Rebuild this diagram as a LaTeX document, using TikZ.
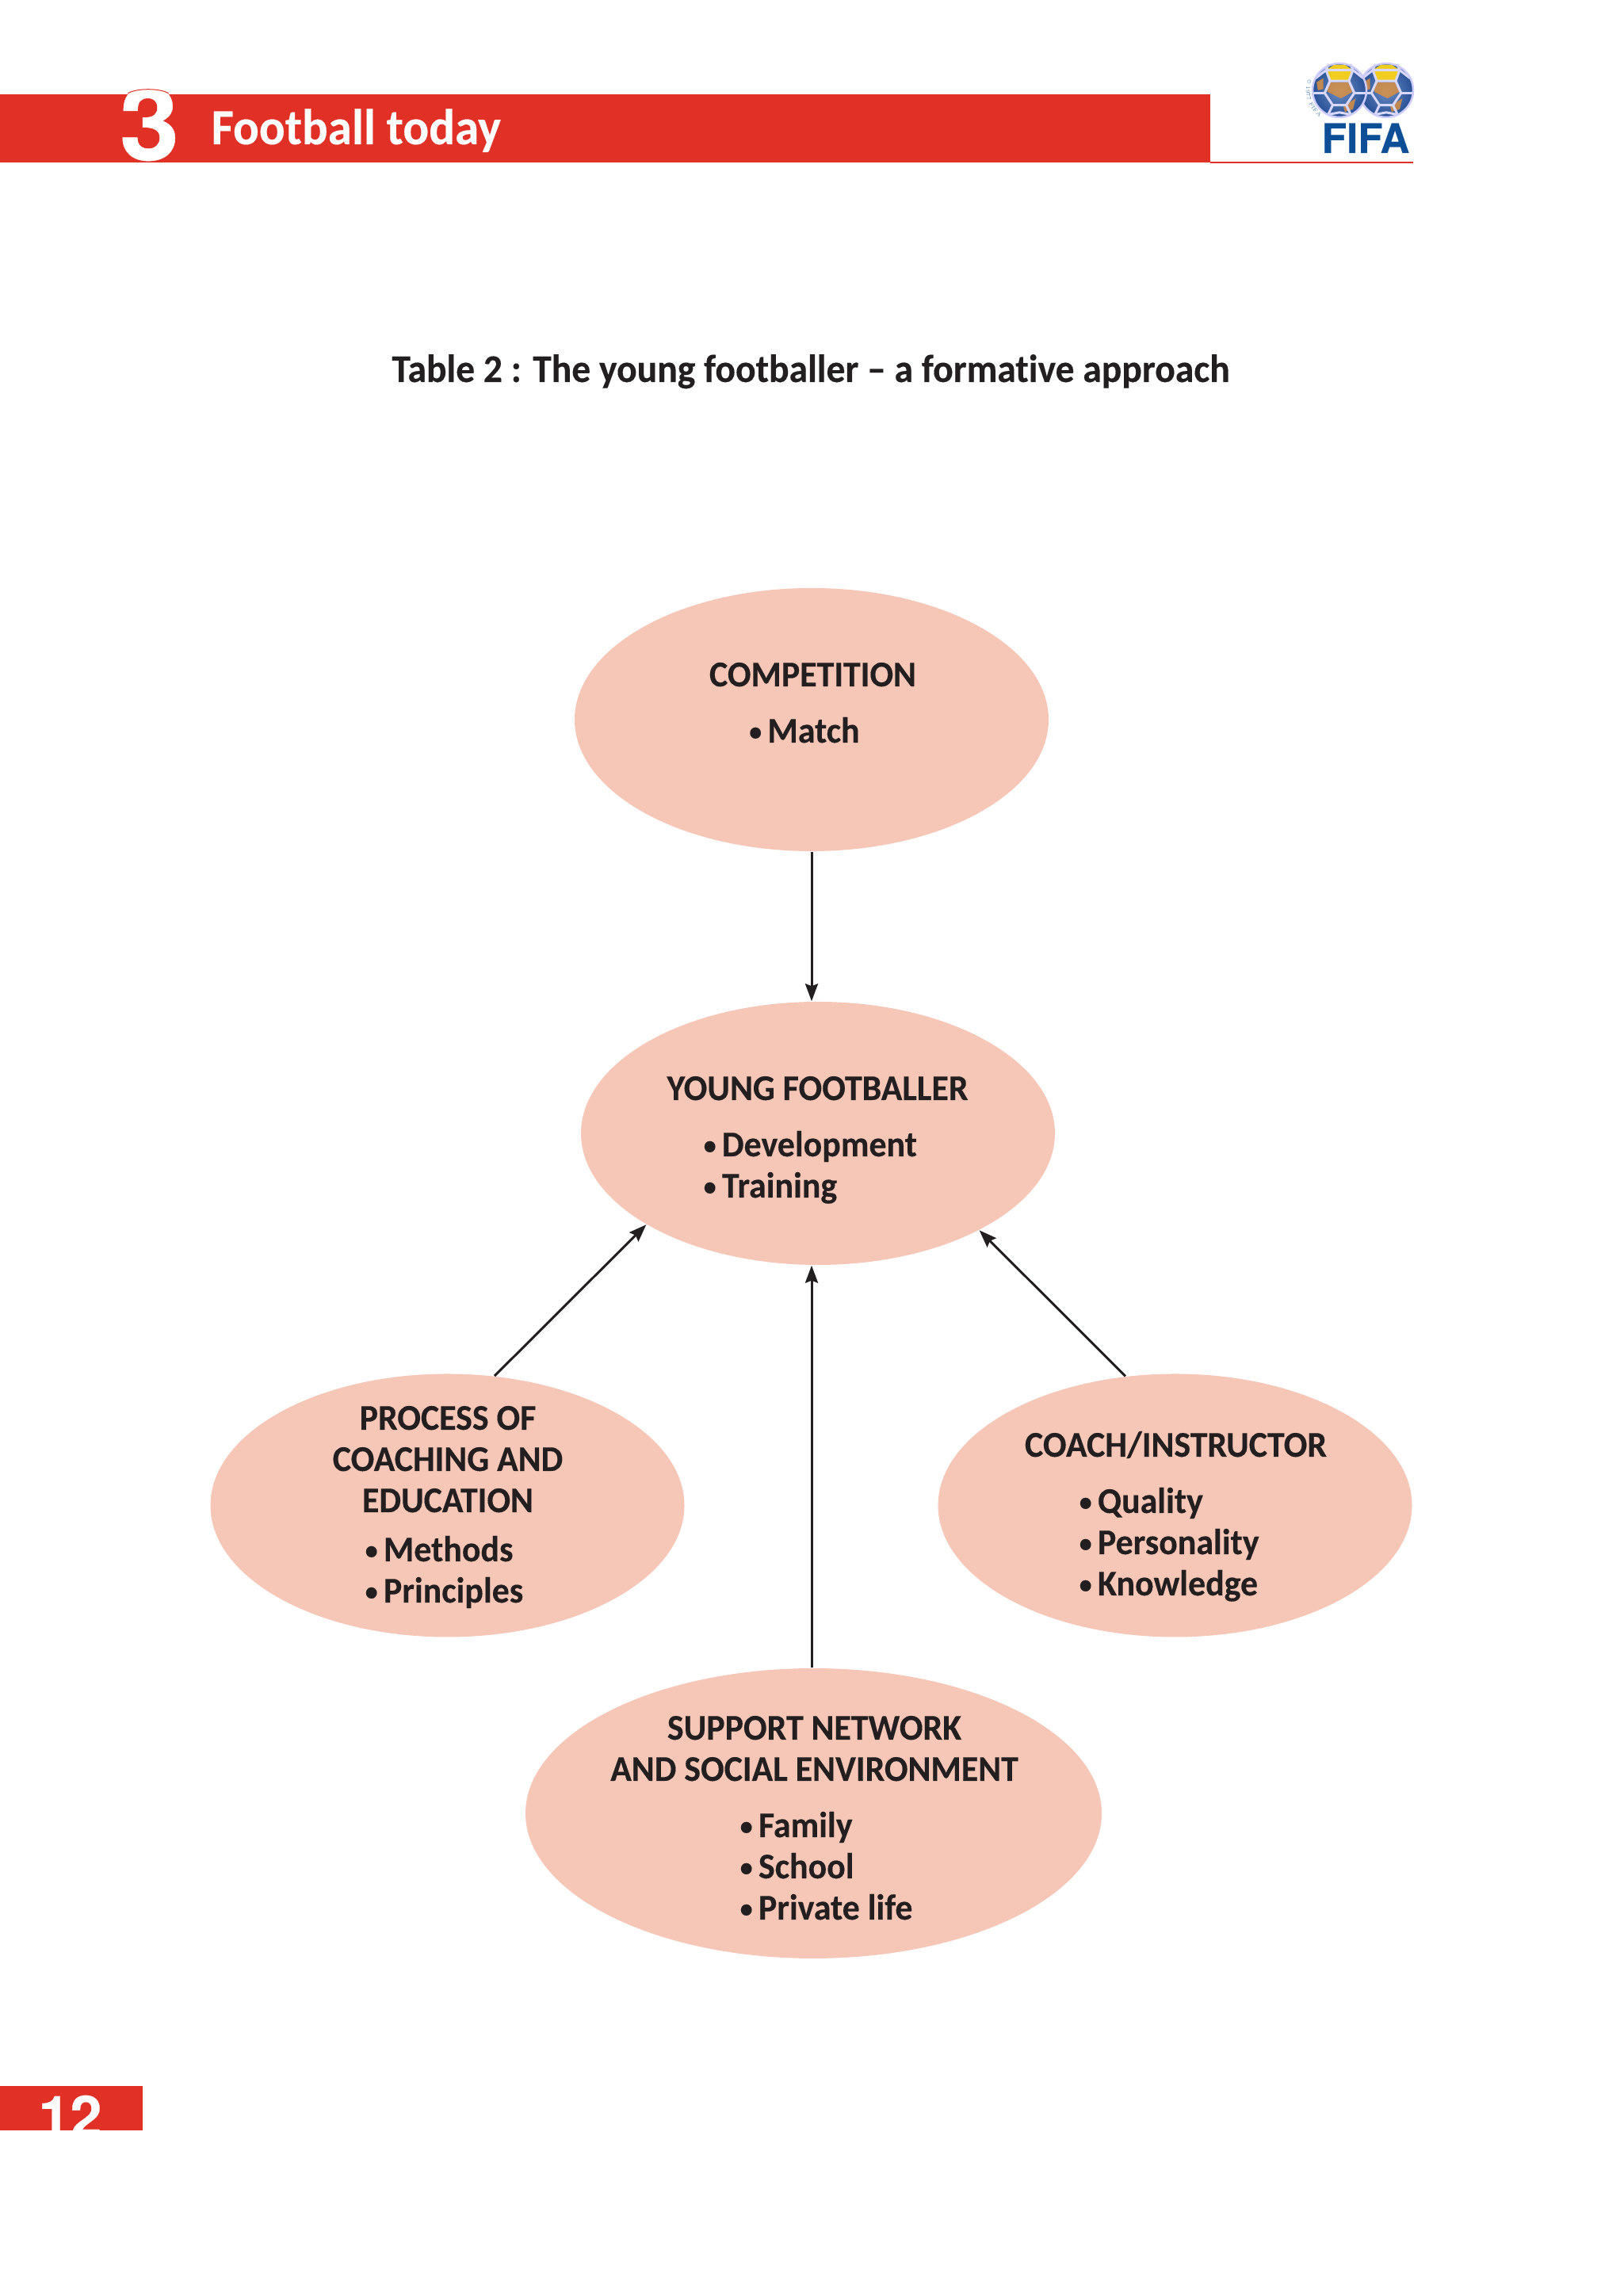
\documentclass[tikz,border=0pt]{standalone}
\usepackage{fontspec}
\usetikzlibrary{arrows.meta}
\usetikzlibrary{shapes.geometric}
\usetikzlibrary{decorations.text}
\newfontfamily\labelfont[FakeStretch=0.96,FakeBold=0.25,Ligatures=NoCommon]{Carlito}
\newfontfamily\heavyfont[FakeBold=0.4]{TeX Gyre Heros}
\definecolor{bandred}{RGB}{225,49,39}
\definecolor{bubblepink}{RGB}{246,198,183}
\definecolor{inkdark}{RGB}{35,31,32}
\definecolor{fifablue}{RGB}{13,79,150}
\definecolor{ballblue}{RGB}{40,80,150}
\definecolor{ballmid}{RGB}{105,140,195}
\definecolor{ballyellow}{RGB}{240,205,30}
\definecolor{ballorange}{RGB}{225,145,60}
\tikzstyle{line} = [draw=inkdark, -{Stealth[length=2.2mm,width=1.6mm,inset=0.3mm]}, line width=0.3mm]
\tikzstyle{bubble} = [ellipse, fill=bubblepink, inner sep=0pt, minimum width=5.98cm, minimum height=3.32cm]
\tikzstyle{head} = [anchor=base, align=center, inner sep=0pt, text=inkdark, font=\labelfont\bfseries\fontsize{13}{14.8}\selectfont]
\tikzstyle{items} = [anchor=base west, align=left, inner sep=0pt, text=inkdark, font=\labelfont\bfseries\fontsize{13}{14.8}\selectfont]
\tikzstyle{seam} = [white!85!blue, line width=0.3mm]
\newcommand{\bul}{\raisebox{0.06em}{\fontsize{9.5}{9.5}\selectfont •}\hspace{0.16em}}
\begin{document}
\begin{tikzpicture}
	\useasboundingbox (0,0) rectangle (20.48,28.73);
	
	% ------------------- Page header ------------------- %
	\fill[bandred] (0,26.68) rectangle (15.27,27.54);
	\draw[bandred, line width=0.2mm] (15.27,26.68) -- (17.83,26.68);
	\node[anchor=base, inner sep=0pt, text=white, font=\heavyfont\bfseries\fontsize{36.4}{36.4}\selectfont] (chapno) at (1.885,26.71) {\scalebox{1.06}[1]{3}};
	\draw[bandred, line width=0.1mm] (1.61,27.55) .. controls (1.72,27.62) and (2.02,27.62) .. (2.13,27.55);
	\node[anchor=base west, inner sep=0pt, text=white, font=\labelfont\bfseries\fontsize{18.1}{18.1}\selectfont] (chaptitle) at (2.66,26.91) {Football today};
	
	% ------------------- Logo ------------------- %
	\foreach \cx in {17.49,16.90} {
		\begin{scope}[shift={(\cx,27.59)}, scale=0.34]
			\shade[inner color=ballmid, outer color=ballblue] (0,0) circle (1);
			\fill[ballyellow] (-.35,.38) -- (.35,.38) -- (.5,.75) -- (.2,.95) -- (-.2,.95) -- (-.5,.75) -- cycle;
			\fill[ballorange, opacity=0.8] (-.4,.3) -- (.4,.3) -- (.5,-.05) -- (.05,-.3) -- (-.45,-.05) -- cycle;
			\fill[ballorange, opacity=0.8] (.15,-.6) -- (.6,-.3) -- (.5,-.7) -- (.2,-.8) -- cycle;
			\fill[ballorange, opacity=0.8] (-.85,.3) -- (-.6,.45) -- (-.6,.05) -- (-.8,0) -- cycle;
			\draw[seam] (-.35,.35) -- (.35,.35) -- (.55,-.1) -- (.25,-.55) -- (-.25,-.55) -- (-.55,-.1) -- cycle;
			\draw[seam] (-.4,.98) -- (-.5,.75) -- (.5,.75) -- (.4,.98);
			\draw[seam] (-.35,.35) -- (-.5,.75) -- (-.88,.45);
			\draw[seam] (.35,.35) -- (.5,.75) -- (.88,.45);
			\draw[seam] (-.55,-.1) -- (-.98,-.1);
			\draw[seam] (.55,-.1) -- (.98,-.1);
			\draw[seam] (-.25,-.55) -- (-.42,-.9);
			\draw[seam] (.25,-.55) -- (.42,-.9);
			\draw[seam] (-.42,-.9) -- (0,-.82) -- (.42,-.9);
			\draw[white!80!blue, line width=0.25mm] (0,0) circle (1);
		\end{scope}
	}
	\path[decorate, decoration={text along path, text align=center,
		text={|\fontsize{2}{2}\selectfont\color{fifablue!70!white}|© 1977 FIFA TM}}]
		(16.48,27.59) arc (180:240:0.42);
	\node[anchor=base, inner sep=0pt, text=fifablue, font=\heavyfont\bfseries\fontsize{14.6}{14.6}\selectfont] (fifa) at (17.23,26.80) {FIFA};
	
	% ------------------- Title ------------------- %
	\node[anchor=base, inner sep=0pt, text=inkdark, font=\labelfont\bfseries\fontsize{14.1}{16}\selectfont] (title) at (10.23,23.91) {Table 2 : The young footballer – a formative approach};
	
	% ------------------- Bubbles ------------------- %
	\node[bubble] (comp) at (10.24,19.65) {};
	\node[bubble] (young) at (10.32,14.43) {};
	\node[bubble] (process) at (5.645,9.735) {};
	\node[bubble] (coach) at (14.825,9.735) {};
	\node[bubble, minimum width=7.27cm, minimum height=3.66cm] (support) at (10.265,5.85) {};
	
	% ------------------- Bubble texts ------------------- %
	\node[head] (compHead) at (10.255,20.07) {COMPETITION};
	\node[items] (compList) at (9.445,19.36) {\bul Match};
	
	\node[head] (youngHead) at (10.315,14.85) {YOUNG FOOTBALLER};
	\node[items] (youngList) at (8.87,13.62) {\bul Development\\ \bul Training};
	
	\node[head] (processHead) at (5.65,9.65) {PROCESS OF\\ COACHING AND\\ EDUCATION};
	\node[items] (processList) at (4.60,8.51) {\bul Methods\\ \bul Principles};
	
	\node[head] (coachHead) at (14.835,10.35) {COACH/INSTRUCTOR};
	\node[items] (coachList) at (13.61,8.60) {\bul Quality\\ \bul Personality\\ \bul Knowledge};
	
	\node[head] (supportHead) at (10.275,6.26) {SUPPORT NETWORK\\ AND SOCIAL ENVIRONMENT};
	\node[items] (supportList) at (9.33,4.51) {\bul Family\\ \bul School\\ \bul Private life};
	
	% ------------------- Arrows ------------------- %
	\draw[line] (comp.south) -- (comp.south |- young.north);
	\draw[line] (support.north -| comp.south) -- (comp.south |- young.south);
	\draw[line] (process.70) -- (young.208.5);
	\draw[line] (coach.111) -- (young.-31);
	
	% ------------------- Page number ------------------- %
	\fill[bandred] (0,1.85) rectangle (1.80,2.41);
	\node[anchor=base, inner sep=0pt, text=white, font=\heavyfont\bfseries\fontsize{20.5}{20.5}\selectfont] (pageno) at (0.885,1.77) {12};
\end{tikzpicture}
\end{document}
